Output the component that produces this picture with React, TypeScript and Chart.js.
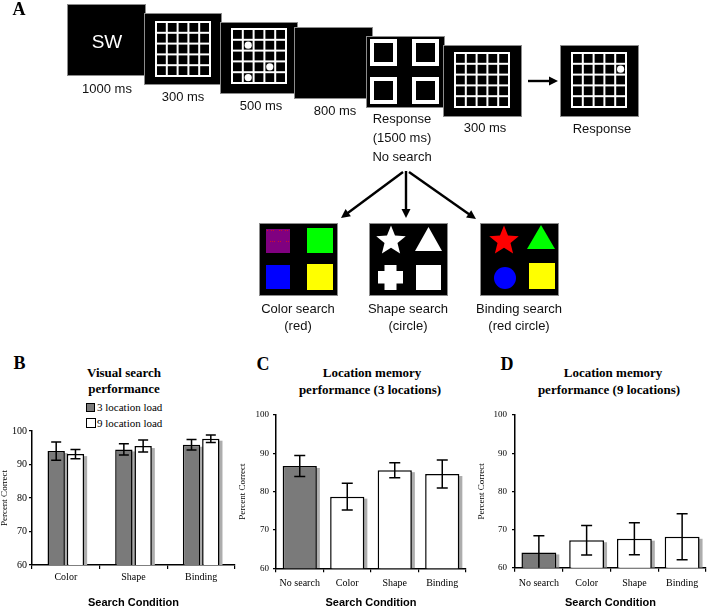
import React, { useEffect, useRef } from "react";
import { Chart, registerables } from "chart.js";

Chart.register(...registerables);

const SERIF = '"Liberation Serif", "Times New Roman", serif';
const SANS = '"Liberation Sans", Arial, Helvetica, sans-serif';
const GRAY = "#7a7a7a";

// ---- Panel B: visual search performance ----
const searchCategories = ["Color", "Shape", "Binding"];
const load3Values = [94.0, 94.5, 95.9];
const load3Errors = [2.7, 1.7, 1.6];
const load9Values = [93.1, 95.5, 97.7];
const load9Errors = [1.4, 1.8, 1.1];
const legendLabels = ["3 location load", "9 location load"];

// ---- Panels C and D: location memory performance ----
const memoryCategories = ["No search", "Color", "Shape", "Binding"];
const memoryColors = [GRAY, "#ffffff", "#ffffff", "#ffffff"];
const memory3Values = [86.7, 78.7, 85.6, 84.6];
const memory3Errors = [2.75, 3.5, 1.95, 3.65];
const memory9Values = [64.0, 67.2, 67.6, 68.1];
const memory9Errors = [4.4, 3.85, 4.2, 6.0];

const yMin = 60;
const yMax = 100;
const yStep = 10;
const yTitle = "Percent Correct";
const xTitle = "Search Condition";

type DS = { label: string; values: number[]; errors: number[]; colors: string | string[] };

type PanelProps = {
  left: number; top: number; width: number; height: number;
  plotLeft: number; plotTop: number; plotRight: number; plotBottom: number;
  categories: string[]; datasets: DS[];
  barPercentage: number; categoryPercentage: number;
  yTickSize: number; yTickPad: number; xTickPad: number; yTitlePad: number; cap: number;
};

function BarPanel(p: PanelProps) {
  const ref = useRef<HTMLCanvasElement>(null);
  useEffect(() => {
    const canvas = ref.current!;
    const xHeight = p.height - p.plotBottom;
    const shadowPlugin = {
      id: "barShadow",
      beforeDatasetsDraw(chart: any) {
        const ctx = chart.ctx;
        const area = chart.chartArea;
        ctx.save();
        ctx.beginPath();
        ctx.rect(area.left, area.top, area.right - area.left + 6, area.bottom - area.top);
        ctx.clip();
        ctx.fillStyle = "#adadad";
        chart.data.datasets.forEach((_ds: any, i: number) => {
          const meta = chart.getDatasetMeta(i);
          meta.data.forEach((bar: any) => {
            const { x, y, width } = bar.getProps(["x", "y", "width"], true);
            const bottom = area.bottom;
            ctx.fillRect(x - width / 2 + 3, y + 2, width, bottom - y - 2);
          });
        });
        ctx.restore();
      },
    };
    const errorPlugin = {
      id: "errorBars",
      afterDatasetsDraw(chart: any) {
        const ctx = chart.ctx;
        const ys = chart.scales.y;
        ctx.save();
        ctx.strokeStyle = "#000";
        ctx.lineWidth = 1.5;
        chart.data.datasets.forEach((ds: any, i: number) => {
          const meta = chart.getDatasetMeta(i);
          meta.data.forEach((bar: any, j: number) => {
            const v = ds.data[j];
            const e = ds.errors[j];
            const x = bar.x;
            const top = ys.getPixelForValue(v + e);
            const lowV = v - e;
            const bot = ys.getPixelForValue(Math.max(lowV, ys.min));
            ctx.beginPath();
            ctx.moveTo(x, top);
            ctx.lineTo(x, bot);
            ctx.moveTo(x - p.cap, top);
            ctx.lineTo(x + p.cap, top);
            if (lowV >= ys.min) {
              ctx.moveTo(x - p.cap, bot);
              ctx.lineTo(x + p.cap, bot);
            }
            ctx.stroke();
          });
        });
        ctx.restore();
      },
    };
    const chart = new Chart(canvas, {
      type: "bar",
      data: {
        labels: p.categories,
        datasets: p.datasets.map((d) => ({
          label: d.label,
          data: d.values,
          errors: d.errors,
          backgroundColor: d.colors,
          borderColor: "#000",
          borderWidth: 1.5,
          borderSkipped: false,
          barPercentage: p.barPercentage,
          categoryPercentage: p.categoryPercentage,
        })) as any,
      },
      options: {
        responsive: false,
        maintainAspectRatio: false,
        animation: false,
        devicePixelRatio: 1,
        layout: { padding: { left: 0, top: p.plotTop, right: p.width - p.plotRight, bottom: 0 } },
        plugins: { legend: { display: false }, tooltip: { enabled: false }, title: { display: false } },
        scales: {
          x: {
            type: "category",
            grid: { display: true, drawOnChartArea: false, drawTicks: true, tickLength: 4, color: "#000", lineWidth: 1.2, offset: true },
            border: { display: true, color: "#000", width: 1.5 },
            ticks: { color: "#000", font: { family: SERIF, size: 10 }, padding: p.xTickPad, maxRotation: 0, autoSkip: false },
            title: { display: true, text: xTitle, color: "#000", font: { family: SANS, size: 11, weight: "bold", lineHeight: 1 }, padding: { top: 0, bottom: -1 } },
            afterFit: (s: any) => { s.height = xHeight; },
          },
          y: {
            min: yMin,
            max: yMax,
            ticks: { stepSize: yStep, color: "#000", font: { family: SERIF, size: p.yTickSize }, padding: p.yTickPad },
            grid: { display: true, drawOnChartArea: false, drawTicks: true, tickLength: 3, color: "#000", lineWidth: 1.2 },
            border: { display: true, color: "#000", width: 1.5 },
            title: { display: true, text: yTitle, color: "#000", font: { family: SERIF, size: 9, lineHeight: 1 }, padding: { top: p.yTitlePad, bottom: 0 } },
            afterFit: (s: any) => { s.width = p.plotLeft; },
          },
        },
      } as any,
      plugins: [shadowPlugin, errorPlugin],
    });
    return () => chart.destroy();
  }, []);
  return (
    <canvas
      ref={ref}
      width={p.width}
      height={p.height}
      style={{ position: "absolute", left: p.left, top: p.top, width: p.width, height: p.height }}
    />
  );
}

function T(props: { x: number; y: number; text: string; size?: number; family?: string; weight?: string; color?: string; align?: "center" | "left" }) {
  const { x, y, text, size = 13, family = SANS, weight = "normal", color = "#111", align = "center" } = props;
  return (
    <div
      style={{
        position: "absolute",
        left: x,
        top: y,
        transform: align === "center" ? "translate(-50%, -50%)" : "translate(0, -50%)",
        font: `${weight} ${size}px ${family}`,
        lineHeight: 1,
        color,
        whiteSpace: "nowrap",
      }}
    >
      {text}
    </div>
  );
}

// ---- Panel A diagram (schematic, not data) ----
function drawScreen(ctx: CanvasRenderingContext2D, x: number, y: number, w: number, h: number) {
  ctx.fillStyle = "#000";
  ctx.fillRect(x, y, w, h);
  ctx.strokeStyle = "#8c8c8c";
  ctx.lineWidth = 1;
  ctx.strokeRect(x + 0.5, y + 0.5, w - 1, h - 1);
}
function drawGrid(ctx: CanvasRenderingContext2D, x: number, y: number, size: number, dots: number[][]) {
  const gap = 2;
  const cell = (size - gap * 6) / 5;
  ctx.fillStyle = "#fff";
  ctx.fillRect(x, y, size, size);
  ctx.fillStyle = "#000";
  for (let r = 0; r < 5; r++)
    for (let c = 0; c < 5; c++) ctx.fillRect(x + gap + c * (cell + gap), y + gap + r * (cell + gap), cell, cell);
  ctx.fillStyle = "#fff";
  dots.forEach(([r, c]) => {
    ctx.beginPath();
    ctx.arc(x + gap + c * (cell + gap) + cell / 2, y + gap + r * (cell + gap) + cell / 2, 3.6, 0, Math.PI * 2);
    ctx.fill();
  });
}
function drawStar(ctx: CanvasRenderingContext2D, cx: number, cy: number, R: number, color: string) {
  ctx.fillStyle = color;
  ctx.beginPath();
  for (let k = 0; k < 10; k++) {
    const a = -Math.PI / 2 + (k * Math.PI) / 5;
    const rr = k % 2 === 0 ? R : R * 0.44;
    const px = cx + rr * Math.cos(a);
    const py = cy + rr * Math.sin(a);
    if (k === 0) ctx.moveTo(px, py);
    else ctx.lineTo(px, py);
  }
  ctx.closePath();
  ctx.fill();
}
function drawTriangle(ctx: CanvasRenderingContext2D, x: number, y: number, w: number, h: number, color: string) {
  ctx.fillStyle = color;
  ctx.beginPath();
  ctx.moveTo(x + w / 2, y);
  ctx.lineTo(x + w, y + h);
  ctx.lineTo(x, y + h);
  ctx.closePath();
  ctx.fill();
}
function drawArrow(ctx: CanvasRenderingContext2D, x1: number, y1: number, x2: number, y2: number) {
  const a = Math.atan2(y2 - y1, x2 - x1);
  const hl = 9;
  const hw = 4.5;
  ctx.strokeStyle = "#000";
  ctx.fillStyle = "#000";
  ctx.lineWidth = 2.4;
  ctx.beginPath();
  ctx.moveTo(x1, y1);
  ctx.lineTo(x2 - (hl - 1) * Math.cos(a), y2 - (hl - 1) * Math.sin(a));
  ctx.stroke();
  ctx.beginPath();
  ctx.moveTo(x2, y2);
  ctx.lineTo(x2 - hl * Math.cos(a) + hw * Math.sin(a), y2 - hl * Math.sin(a) - hw * Math.cos(a));
  ctx.lineTo(x2 - hl * Math.cos(a) - hw * Math.sin(a), y2 - hl * Math.sin(a) + hw * Math.cos(a));
  ctx.closePath();
  ctx.fill();
}

function Diagram() {
  const ref = useRef<HTMLCanvasElement>(null);
  useEffect(() => {
    const ctx = ref.current!.getContext("2d")!;
    ctx.clearRect(0, 0, 707, 340);
    // trial sequence
    drawScreen(ctx, 67, 4, 79, 72);
    drawScreen(ctx, 144, 13, 78, 72);
    drawGrid(ctx, 155, 21, 56, []);
    drawScreen(ctx, 220, 22, 78, 72);
    drawGrid(ctx, 231, 28, 56, [[1, 1], [3, 3], [4, 1]]);
    drawScreen(ctx, 294, 27, 79, 72);
    drawScreen(ctx, 366, 36, 79, 72);
    [[370, 39], [412, 39], [370, 77], [412, 77]].forEach(([x, y]) => {
      ctx.fillStyle = "#fff";
      ctx.fillRect(x, y, 27, 27);
      ctx.fillStyle = "#000";
      ctx.fillRect(x + 4, y + 4, 19, 19);
    });
    drawScreen(ctx, 443, 45, 79, 72);
    drawGrid(ctx, 454, 52, 56, []);
    drawArrow(ctx, 528, 81, 558, 81);
    drawScreen(ctx, 560, 45, 79, 72);
    drawGrid(ctx, 571, 52, 56, [[1, 4]]);
    // branching arrows
    drawArrow(ctx, 403, 172, 341, 218);
    drawArrow(ctx, 406, 171, 406, 218);
    drawArrow(ctx, 409, 172, 476, 219);
    // color search
    drawScreen(ctx, 259, 223, 79, 73);
    ctx.fillStyle = "#800080";
    ctx.fillRect(266, 229, 24, 24);
    ctx.fillStyle = "#d0102a";
    for (let i = 0; i < 14; i++) {
      const dx = (i * 7) % 22;
      const dy = (i * 11) % 22;
      ctx.fillRect(267 + dx, 230 + dy, 1, 1);
    }
    ctx.fillStyle = "#00ff00";
    ctx.fillRect(307, 228, 26, 25);
    ctx.fillStyle = "#0000ff";
    ctx.fillRect(266, 265, 24, 24);
    ctx.fillStyle = "#ffff00";
    ctx.fillRect(307, 264, 26, 26);
    // shape search
    drawScreen(ctx, 369, 223, 79, 73);
    drawStar(ctx, 391, 241, 15.5, "#fff");
    drawTriangle(ctx, 415, 227, 27, 24, "#fff");
    ctx.fillStyle = "#fff";
    ctx.fillRect(384.5, 265, 12, 25);
    ctx.fillRect(378, 271, 25, 12.5);
    ctx.fillRect(416, 265, 25, 25);
    // binding search
    drawScreen(ctx, 480, 223, 79, 73);
    drawStar(ctx, 504, 241, 15.5, "#ff0000");
    drawTriangle(ctx, 527, 225, 28, 24, "#00ff00");
    ctx.fillStyle = "#0000ff";
    ctx.beginPath();
    ctx.arc(505, 278, 11, 0, Math.PI * 2);
    ctx.fill();
    ctx.fillStyle = "#ffff00";
    ctx.fillRect(529, 263, 26, 26);
  }, []);
  return <canvas ref={ref} width={707} height={340} style={{ position: "absolute", left: 0, top: 0, width: 707, height: 340 }} />;
}

export default function App() {
  return (
    <div style={{ position: "absolute", left: 0, top: 0, width: 707, height: 607, background: "#fff", overflow: "hidden" }}>
      <Diagram />
      {/* panel A texts */}
      <T x={19} y={9} text="A" size={18} family={SERIF} weight="bold" color="#000" />
      <T x={107} y={41} text="SW" size={19} color="#fff" />
      <T x={107} y={88} text="1000 ms" />
      <T x={183} y={96} text="300 ms" />
      <T x={261} y={105} text="500 ms" />
      <T x={335} y={110} text="800 ms" />
      <T x={402} y={118} text="Response" />
      <T x={402} y={137} text="(1500 ms)" />
      <T x={402} y={156} text="No search" />
      <T x={485} y={127} text="300 ms" />
      <T x={602} y={128} text="Response" />
      <T x={298} y={308} text="Color search" />
      <T x={298} y={325} text="(red)" />
      <T x={408} y={308} text="Shape search" />
      <T x={408} y={325} text="(circle)" />
      <T x={519} y={308} text="Binding search" />
      <T x={519} y={325} text="(red circle)" />

      {/* panel B */}
      <T x={19.5} y={363} text="B" size={18} family={SERIF} weight="bold" color="#000" />
      <T x={124} y={372} text="Visual search" size={13} family={SERIF} weight="bold" color="#000" />
      <T x={124} y={388} text="performance" size={13} family={SERIF} weight="bold" color="#000" />
      <div style={{ position: "absolute", left: 86, top: 403, width: 9, height: 9, boxSizing: "border-box", background: GRAY, border: "1.5px solid #000" }} />
      <T x={97} y={407} text={legendLabels[0]} size={11} family={SERIF} color="#000" align="left" />
      <div style={{ position: "absolute", left: 86, top: 418, width: 10, height: 10, boxSizing: "border-box", background: "#fff", border: "1.5px solid #000" }} />
      <T x={97} y={423} text={legendLabels[1]} size={11} family={SERIF} color="#000" align="left" />
      <BarPanel
        left={0} top={420} width={240} height={187}
        plotLeft={32} plotTop={11} plotRight={235} plotBottom={145}
        categories={searchCategories}
        datasets={[
          { label: legendLabels[0], values: load3Values, errors: load3Errors, colors: GRAY },
          { label: legendLabels[1], values: load9Values, errors: load9Errors, colors: "#ffffff" },
        ]}
        barPercentage={0.9} categoryPercentage={0.57}
        yTickSize={10} yTickPad={2} xTickPad={2} yTitlePad={0} cap={5}
      />

      {/* panel C */}
      <T x={263} y={363.5} text="C" size={18} family={SERIF} weight="bold" color="#000" />
      <T x={372} y={372} text="Location memory" size={13} family={SERIF} weight="bold" color="#000" />
      <T x={370} y={389} text="performance (3 locations)" size={13} family={SERIF} weight="bold" color="#000" />
      <BarPanel
        left={236} top={400} width={236} height={207}
        plotLeft={40} plotTop={15} plotRight={230} plotBottom={168.3}
        categories={memoryCategories}
        datasets={[{ label: "3 locations", values: memory3Values, errors: memory3Errors, colors: memoryColors }]}
        barPercentage={0.72} categoryPercentage={1}
        yTickSize={9} yTickPad={4} xTickPad={5.5} yTitlePad={2.5} cap={5.5}
      />

      {/* panel D */}
      <T x={507} y={363.5} text="D" size={18} family={SERIF} weight="bold" color="#000" />
      <T x={613} y={372} text="Location memory" size={13} family={SERIF} weight="bold" color="#000" />
      <T x={609} y={389} text="performance (9 locations)" size={13} family={SERIF} weight="bold" color="#000" />
      <BarPanel
        left={475} top={400} width={232} height={207}
        plotLeft={40} plotTop={15} plotRight={231} plotBottom={167.7}
        categories={memoryCategories}
        datasets={[{ label: "9 locations", values: memory9Values, errors: memory9Errors, colors: memoryColors }]}
        barPercentage={0.73} categoryPercentage={1}
        yTickSize={9} yTickPad={5} xTickPad={5.5} yTitlePad={2.5} cap={5.5}
      />
    </div>
  );
}
